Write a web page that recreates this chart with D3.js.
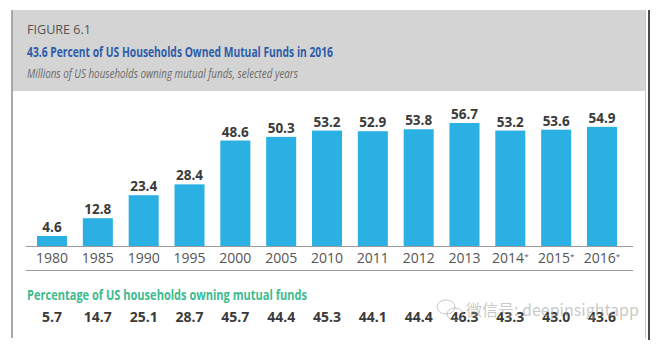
<!DOCTYPE html>
<html><head><meta charset="utf-8">
<script src="https://cdn.jsdelivr.net/npm/d3@7"></script>
<style>body{margin:0;background:#fff}svg{display:block}</style>
</head><body>
<svg id="c" width="660" height="359"></svg>
<script>
const years = ["1980","1985","1990","1995","2000","2005","2010","2011","2012","2013","2014","2015","2016"];
const starred = [false,false,false,false,false,false,false,false,false,false,true,true,true];
const households = [4.6,12.8,23.4,28.4,48.6,50.3,53.2,52.9,53.8,56.7,53.2,53.6,54.9];
const percents = ["5.7","14.7","25.1","28.7","45.7","44.4","45.3","44.1","44.4","46.3","43.3","43.0","43.6"];
const figureLabel = "FIGURE 6.1";
const titleText = "43.6 Percent of US Households Owned Mutual Funds in 2016";
const subtitleText = "Millions of US households owning mutual funds, selected years";
const pctLabel = "Percentage of US households owning mutual funds";
const watermark = "微信号: deepinsightapp";

const svg = d3.select("#c");
const F = "'Liberation Sans Narrow','Open Sans',sans-serif";

// frame
svg.append("rect").attr("x",12.5).attr("y",10).attr("width",633).attr("height",81).attr("fill","#d4d4d4");
svg.append("line").attr("x1",12).attr("x2",12).attr("y1",10).attr("y2",338).attr("stroke","#8e8e8e").attr("stroke-width",1.5);
svg.append("line").attr("x1",645.5).attr("x2",645.5).attr("y1",10).attr("y2",338).attr("stroke","#c8c8c8").attr("stroke-width",1);
svg.append("line").attr("x1",649).attr("x2",649).attr("y1",10).attr("y2",340).attr("stroke","#111").attr("stroke-width",1.5);

// header text
svg.append("text").attr("x",27).attr("y",33.5).text(figureLabel)
  .attr("font-family",F).attr("font-size",12.5).attr("fill","#555")
  .attr("textLength",64).attr("lengthAdjust","spacingAndGlyphs");
svg.append("text").attr("x",27).attr("y",57).text(titleText)
  .attr("font-family",F).attr("font-size",14.5).attr("font-weight","bold").attr("fill","#2e5caa")
  .attr("textLength",306).attr("lengthAdjust","spacingAndGlyphs");
svg.append("text").attr("x",27).attr("y",78).text(subtitleText)
  .attr("font-family",F).attr("font-size",12.5).attr("font-style","italic").attr("fill","#6a6a6a")
  .attr("textLength",271).attr("lengthAdjust","spacingAndGlyphs");

// scales
const x = d3.scaleBand().domain(years).range([29.1,624.9]).paddingInner(0.345).paddingOuter(0.1725);
const y = d3.scaleLinear().domain([0,60]).range([246,246-130.2]);

const data = years.map((yr,i)=>({yr, v:households[i], p:percents[i], star:starred[i]}));

svg.append("g").selectAll("rect").data(data).join("rect")
  .attr("x",d=>x(d.yr)).attr("width",x.bandwidth())
  .attr("y",d=>y(d.v)).attr("height",d=>y(0)-y(d.v))
  .attr("fill","#2bb0e4");

svg.append("g").selectAll("text").data(data).join("text")
  .attr("x",d=>x(d.yr)+x.bandwidth()/2).attr("y",d=>y(d.v)-4)
  .attr("text-anchor","middle").attr("font-family",F).attr("font-size",13.5)
  .attr("font-weight","bold").attr("fill","#3a3a3a")
  .text(d=>d.v.toFixed(1));

// axis
const ax = svg.append("g").attr("transform",`translate(0,${y(0)})`)
  .call(d3.axisBottom(x).tickSize(0).tickPadding(0).tickFormat(""));
ax.select(".domain").attr("d","M25.5,0.5H633").attr("stroke","#9a9a9a").attr("stroke-width",1.2);
ax.selectAll(".tick").each(function(d,i){
  const t = d3.select(this).append("text").attr("y",17).attr("text-anchor","middle")
    .attr("font-family",F).attr("font-size",14).attr("fill","#555");
  t.append("tspan").text(d);
  if (starred[i]) t.append("tspan").attr("dy",-4).attr("font-size",8).text("*");
});
svg.append("line").attr("x1",25.5).attr("x2",633).attr("y1",270.5).attr("y2",270.5)
  .attr("stroke","#9a9a9a").attr("stroke-width",1.2);

// percentage row
svg.append("text").attr("x",27).attr("y",300).text(pctLabel)
  .attr("font-family",F).attr("font-size",13.5).attr("font-weight","bold").attr("fill","#3dbb8e")
  .attr("textLength",280).attr("lengthAdjust","spacingAndGlyphs");
svg.append("g").selectAll("text").data(data).join("text")
  .attr("x",d=>x(d.yr)+x.bandwidth()/2).attr("y",321.5)
  .attr("text-anchor","middle").attr("font-family",F).attr("font-size",14)
  .attr("font-weight","bold").attr("fill","#3a3a3a")
  .text(d=>d.p);

// watermark
svg.append("text").attr("x",466).attr("y",316).text(watermark)
  .attr("font-family","'Noto Sans CJK SC',sans-serif").attr("font-size",16)
  .attr("fill","#9a9a9a").attr("fill-opacity",0.55);
const wm = svg.append("g").attr("fill","none").attr("stroke","#9a9a9a").attr("stroke-opacity",0.55).attr("stroke-width",1);
wm.append("ellipse").attr("cx",446).attr("cy",307).attr("rx",9).attr("ry",7);
wm.append("ellipse").attr("cx",455).attr("cy",314).attr("rx",8).attr("ry",6);
</script>
</body></html>
